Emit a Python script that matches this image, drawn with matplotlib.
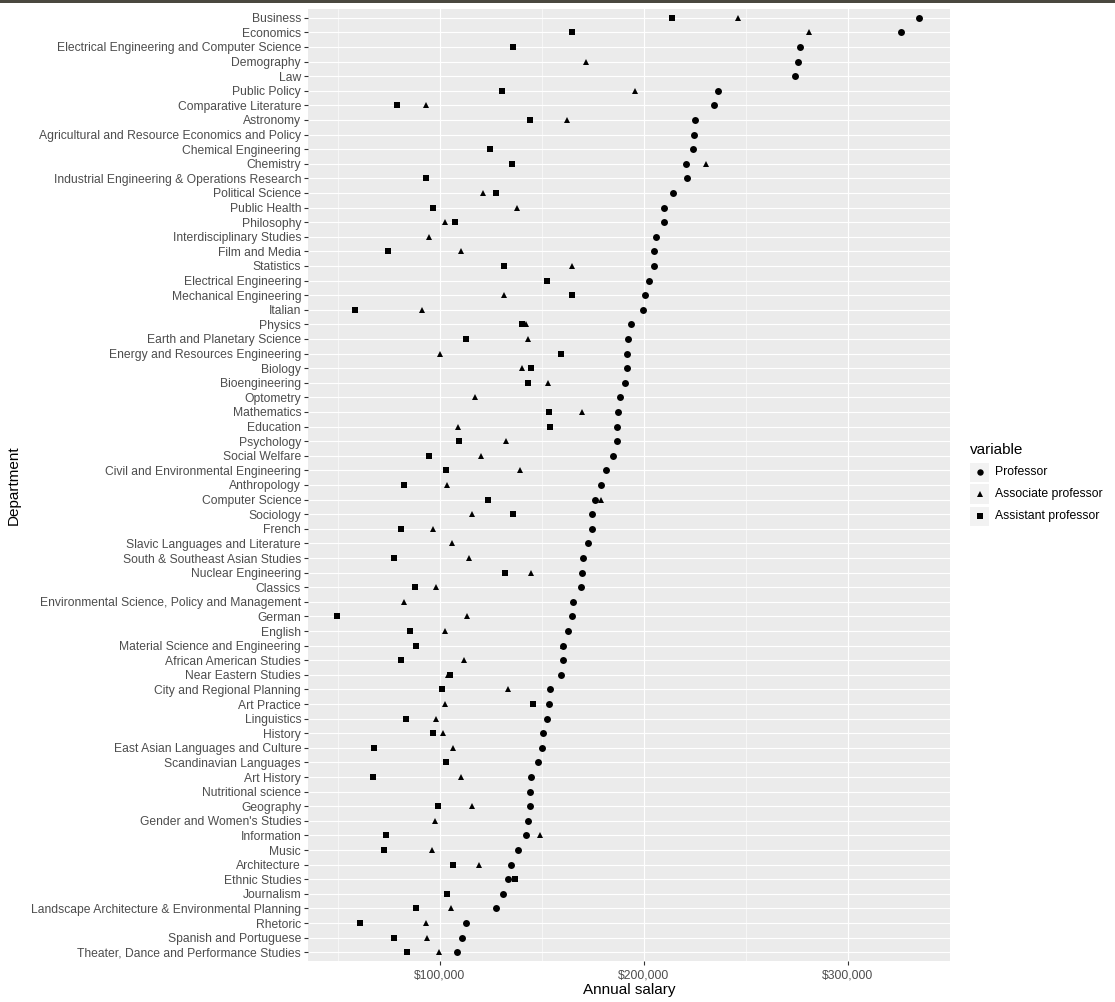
import numpy as np
import matplotlib
matplotlib.use("Agg")
from matplotlib import pyplot as plt
from matplotlib.patches import Rectangle
from matplotlib.lines import Line2D
from matplotlib.ticker import FuncFormatter

plt.rcParams['font.family'] = ['Liberation Sans', 'DejaVu Sans']

nan = np.nan

departments = [
    "Business", "Economics", "Electrical Engineering and Computer Science", "Demography", "Law",
    "Public Policy", "Comparative Literature", "Astronomy", "Agricultural and Resource Economics and Policy",
    "Chemical Engineering", "Chemistry", "Industrial Engineering & Operations Research", "Political Science",
    "Public Health", "Philosophy", "Interdisciplinary Studies", "Film and Media", "Statistics",
    "Electrical Engineering", "Mechanical Engineering", "Italian", "Physics", "Earth and Planetary Science",
    "Energy and Resources Engineering", "Biology", "Bioengineering", "Optometry", "Mathematics", "Education",
    "Psychology", "Social Welfare", "Civil and Environmental Engineering", "Anthropology", "Computer Science",
    "Sociology", "French", "Slavic Languages and Literature", "South & Southeast Asian Studies",
    "Nuclear Engineering", "Classics", "Environmental Science, Policy and Management", "German", "English",
    "Material Science and Engineering", "African American Studies", "Near Eastern Studies",
    "City and Regional Planning", "Art Practice", "Linguistics", "History", "East Asian Languages and Culture",
    "Scandinavian Languages", "Art History", "Nutritional science", "Geography", "Gender and Women's Studies",
    "Information", "Music", "Architecture", "Ethnic Studies", "Journalism",
    "Landscape Architecture & Environmental Planning", "Rhetoric", "Spanish and Portuguese",
    "Theater, Dance and Performance Studies",
]

# salaries in thousands of dollars
professor = [335.0, 326.1, 276.4, 275.6, 274.0, 236.5, 234.3, 224.9, 224.5, 223.9, 220.9, 221.1, 214.5,
             210.0, 209.8, 205.8, 205.2, 204.8, 202.4, 200.4, 199.6, 193.6, 192.4, 192.0, 191.6, 190.6,
             188.2, 187.5, 186.9, 186.7, 184.7, 181.7, 179.1, 176.1, 174.5, 174.5, 172.9, 170.1, 169.9,
             169.5, 165.1, 164.7, 162.9, 160.6, 160.6, 159.6, 154.0, 153.6, 152.6, 150.6, 150.2, 148.4,
             145.0, 144.4, 144.2, 143.4, 142.4, 138.6, 134.9, 133.3, 130.9, 127.5, 112.9, 111.2, 108.6]
associate = [246.3, 280.9, nan, 171.9, nan, 195.6, 93.2, 162.2, nan, nan, 230.5, nan, 121.1, 137.9, 102.8,
             95.0, 110.4, 164.7, 152.6, 131.3, 91.4, 142.4, 143.2, 100.4, 140.2, 153.2, 117.3, 169.7, 109.2,
             132.3, 120.3, 139.2, 103.4, 179.3, 116.1, 96.6, 106.2, 114.3, 144.6, 98.0, 82.5, 113.3, 102.8,
             160.6, 112.0, 104.2, 133.7, 102.6, 98.0, 101.8, 106.4, nan, 110.6, nan, 115.7, 97.6, 149.4,
             96.2, 119.3, 136.9, nan, 105.6, 93.2, 93.6, 99.8]
assistant = [213.7, 165.0, 135.9, nan, nan, 130.5, 78.9, 144.4, nan, 124.5, 135.3, 93.2, 127.7, 96.6, 107.4,
             nan, 74.5, 131.5, 152.6, 164.9, 58.6, 140.4, 112.9, 159.4, 144.8, 143.2, nan, 153.8, 154.2,
             109.6, 94.6, 103.0, 82.5, 123.5, 135.9, 81.3, nan, 77.5, 132.1, 87.8, nan, 49.8, 85.3, 88.4,
             81.3, 105.2, 101.4, 145.6, 83.5, 96.6, 68.1, 103.0, 67.5, nan, 99.2, nan, 73.9, 72.9, 106.4,
             136.9, 103.8, 88.4, 61.0, 77.7, 84.1]

series = [("Professor", professor, "o"),
          ("Associate professor", associate, "^"),
          ("Assistant professor", assistant, "s")]

W, H = 1115, 1002
fig = plt.figure(figsize=(W / 100, H / 100), dpi=100)
ax = fig.add_axes([308 / W, 1 - 961 / H, (950 - 308) / W, (961 - 9) / H])
ax.set_facecolor("#EBEBEB")

n = len(departments)
ypos = np.arange(n)[::-1]

for name, vals, mk in series:
    ax.plot(np.array(vals) * 1000, ypos, linestyle="none", marker=mk, color="black",
            markersize=5.0 if mk != "s" else 4.7, markeredgewidth=0, label=name)

allv = np.array(professor + associate + assistant) * 1000
lo, hi = np.nanmin(allv), np.nanmax(allv)
pad = (hi - lo) * 0.05
ax.set_xlim(lo - pad, hi + pad)
ax.set_ylim(-0.6, n - 1 + 0.6)

ax.set_yticks(ypos)
ax.set_yticklabels(departments)
ax.set_xticks([100000, 200000, 300000])
ax.set_xticks([50000, 150000, 250000, 350000], minor=True)
ax.xaxis.set_major_formatter(FuncFormatter(lambda v, p: "${:,.0f}".format(v)))

ax.grid(which="major", color="white", linewidth=0.85)
ax.grid(which="minor", axis="x", color="white", linewidth=0.4)
ax.set_axisbelow(True)
for s in ax.spines.values():
    s.set_visible(False)

ax.tick_params(which="major", length=2.75, width=0.8, color="#333333", labelcolor="#4D4D4D",
               labelsize=8.7, pad=2.2)
ax.tick_params(axis="x", which="major", pad=3.5)
ax.tick_params(which="minor", length=0)

ax.set_xlabel("Annual salary", fontsize=11, color="black")
ax.xaxis.set_label_coords(0.5, (961 - 990) / 952)
ax.xaxis.label.set_va("center")
ax.set_ylabel("Department", fontsize=11, color="black")
ax.yaxis.set_label_coords((14 - 308) / 642, 0.5)
ax.yaxis.label.set_va("center")

# top dark strip
fig.add_artist(Rectangle((0, 1 - 3 / H), 1, 3 / H, transform=fig.transFigure,
                         facecolor="#4a483f", edgecolor="none"))

# legend
fig.text(970 / W, 1 - 450 / H, "variable", fontsize=11, va="center", ha="left")
for i, (name, vals, mk) in enumerate(series):
    yc = 472 + 22 * i
    fig.add_artist(Rectangle((970 / W, 1 - (yc + 9.5) / H), 19 / W, 19 / H, transform=fig.transFigure,
                             facecolor="#F2F2F2", edgecolor="none"))
    fig.add_artist(Line2D([979.5 / W], [1 - yc / H], transform=fig.transFigure, marker=mk,
                          color="black", markersize=4.6 if mk != "s" else 4.4, markeredgewidth=0))
    fig.text(995 / W, 1 - yc / H, name, fontsize=8.8, va="center", ha="left")

fig.savefig("out.png", dpi=100)
